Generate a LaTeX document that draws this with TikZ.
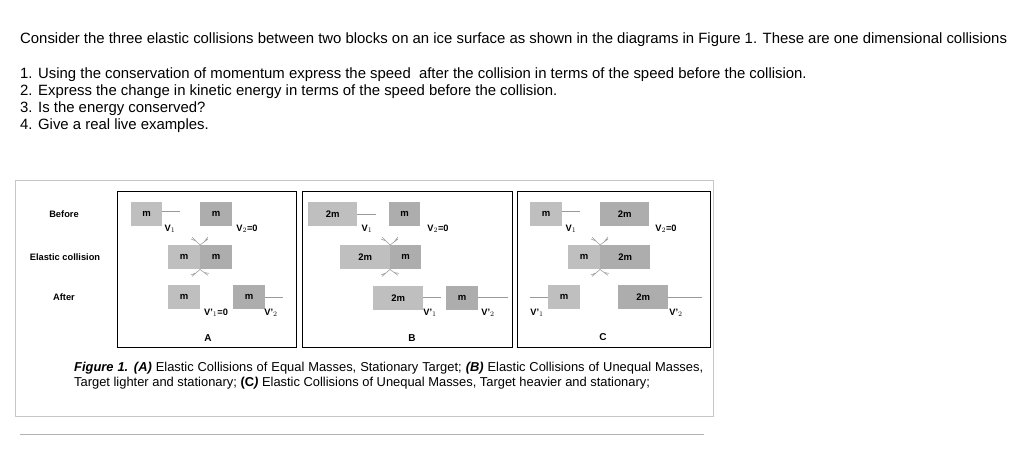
\documentclass[tikz,border=0pt]{standalone}
\usepackage{fontspec}
\setmainfont{Liberation Sans}
\usetikzlibrary{calc}
\begin{document}
\begin{tikzpicture}[x=1pt,y=-1pt,
  lt/.style={fill=gray!50,draw=none,font=\fontsize{9.5}{10}\selectfont\bfseries},
  dk/.style={fill=gray!64,draw=none,font=\fontsize{9.5}{10}\selectfont\bfseries},
  vel/.style={draw=gray!80,line width=0.6pt},
  lab/.style={font=\fontsize{9.3}{10}\selectfont\bfseries,inner sep=0pt},
  side/.style={font=\fontsize{9.3}{10}\selectfont\bfseries,inner sep=0pt},
  panel/.style={draw=black,line width=0.9pt},
  chev/.style={draw=gray!75,line width=0.6pt}]
\useasboundingbox (0,0) rectangle (1024,475);
\newcommand{\blk}[6]{\node[#1,minimum width=#4,minimum height=24,inner sep=0pt,anchor=north west] (#2) at (#3) {#5};}
% text
\node[anchor=west,inner sep=0pt,font=\fontsize{14.9}{16}\selectfont] (t0) at (20,40) {Consider the three elastic collisions between two blocks on an ice surface as shown in the diagrams in Figure 1. These are one dimensional collisions};
\node[anchor=north west,inner sep=0pt,align=left,font=\fontsize{14.9}{17.3}\selectfont] (t1) at (20,67) {1. Using the conservation of momentum express the speed\ \ after the collision in terms of the speed before the collision.\\2. Express the change in kinetic energy in terms of the speed before the collision.\\3. Is the energy conserved?\\4. Give a real live examples.};
% outer box
\draw[gray!45,line width=0.8pt] (15,180) rectangle (713,416);
\node[side] (sb) at (64,214) {Before};
\node[side] (se) at (65,257) {Elastic collision};
\node[side] (sa) at (64,297) {After};
% panels
\draw[panel] (117,191) rectangle (296,347);
\draw[panel] (302,191) rectangle (512,347);
\draw[panel] (517,191) rectangle (710,347);
% Panel A
\blk{lt}{a1}{131,202}{31}{m}{}
\blk{dk}{a2}{200,202}{32}{m}{}
\blk{lt}{a3}{168,245}{32}{m}{}
\blk{dk}{a4}{200,245}{32}{m}{}
\blk{lt}{a5}{168,285}{32}{m}{}
\blk{dk}{a6}{233,285}{32}{m}{}
\coordinate (av1) at (180,211); \draw[vel] (a1.east|-av1) -- (av1);
\coordinate (av2) at (283,297); \draw[vel] (a6.east|-av2) -- (av2);
\node[lab] at (170,229) {V$_1$};
\node[lab] at (247,229) {V$_2$=0};
\node[lab] at (216,313) {V'$_1$=0};
\node[lab] at (271,313) {V'$_2$};
\node[lab,font=\fontsize{10}{10}\selectfont\bfseries] at (208,338) {A};
% Panel B
\blk{lt}{b1}{308,202}{49}{2m}{}
\blk{dk}{b2}{389,202}{31}{m}{}
\blk{lt}{b3}{340,245}{50}{2m}{}
\blk{dk}{b4}{390,245}{31}{m}{}
\blk{lt}{b5}{373,286}{50}{2m}{}
\blk{dk}{b6}{446,286}{32}{m}{}
\coordinate (bv1) at (376,214); \draw[vel] (b1.east|-bv1) -- (bv1);
\coordinate (bv2) at (441,297); \draw[vel] (b5.east|-bv2) -- (bv2);
\coordinate (bv3) at (508,297); \draw[vel] (b6.east|-bv3) -- (bv3);
\node[lab] at (367,229) {V$_1$};
\node[lab] at (438,229) {V$_2$=0};
\node[lab] at (430,313) {V'$_1$};
\node[lab] at (488,313) {V'$_2$};
\node[lab,font=\fontsize{10}{10}\selectfont\bfseries] at (412,338) {B};
% Panel C
\blk{lt}{c1}{530,202}{32}{m}{}
\blk{dk}{c2}{600,202}{49}{2m}{}
\blk{lt}{c3}{568,245}{32}{m}{}
\blk{dk}{c4}{600,245}{50}{2m}{}
\blk{lt}{c5}{548,285}{32}{m}{}
\blk{dk}{c6}{618,285}{50}{2m}{}
\coordinate (cv1) at (580,211); \draw[vel] (c1.east|-cv1) -- (cv1);
\coordinate (cv2) at (530,297); \draw[vel] (c5.west|-cv2) -- (cv2);
\coordinate (cv3) at (702,297); \draw[vel] (c6.east|-cv3) -- (cv3);
\node[lab] at (571,229) {V$_1$};
\node[lab] at (666,229) {V$_2$=0};
\node[lab] at (537,313) {V'$_1$};
\node[lab] at (676,313) {V'$_2$};
\node[lab,font=\fontsize{10}{10}\selectfont\bfseries] at (603,337) {C};
% chevrons
\foreach \n in {a4,b4,c4}{
  \draw[chev] (\n.north west) -- ++(-8,-8) (\n.north west) -- ++(8,-6)
    ($(\n.north west)+(-4,-4)$) -- ++(-5,-2) ($(\n.north west)+(4,-3)$) -- ++(4,-5);
  \draw[chev] (\n.south west) -- ++(-8,7) (\n.south west) -- ++(8,6)
    ($(\n.south west)+(-4,3.5)$) -- ++(-5,2) ($(\n.south west)+(4,3)$) -- ++(5,1);
}
% caption
\node[anchor=north west,inner sep=0pt,text width=629,align=justify,font=\fontsize{12.9}{15}\selectfont] (cap) at (74,362) {\textbf{\textit{Figure 1. (A)}} Elastic Collisions of Equal Masses, Stationary Target; \textbf{\textit{(B)}} Elastic Collisions of Unequal Masses, Target lighter and stationary; \textbf{(C\textit{)}} Elastic Collisions of Unequal Masses, Target heavier and stationary;};
\draw[gray!60,line width=0.8pt] (20,434) -- (704,434);
\end{tikzpicture}
\end{document}
